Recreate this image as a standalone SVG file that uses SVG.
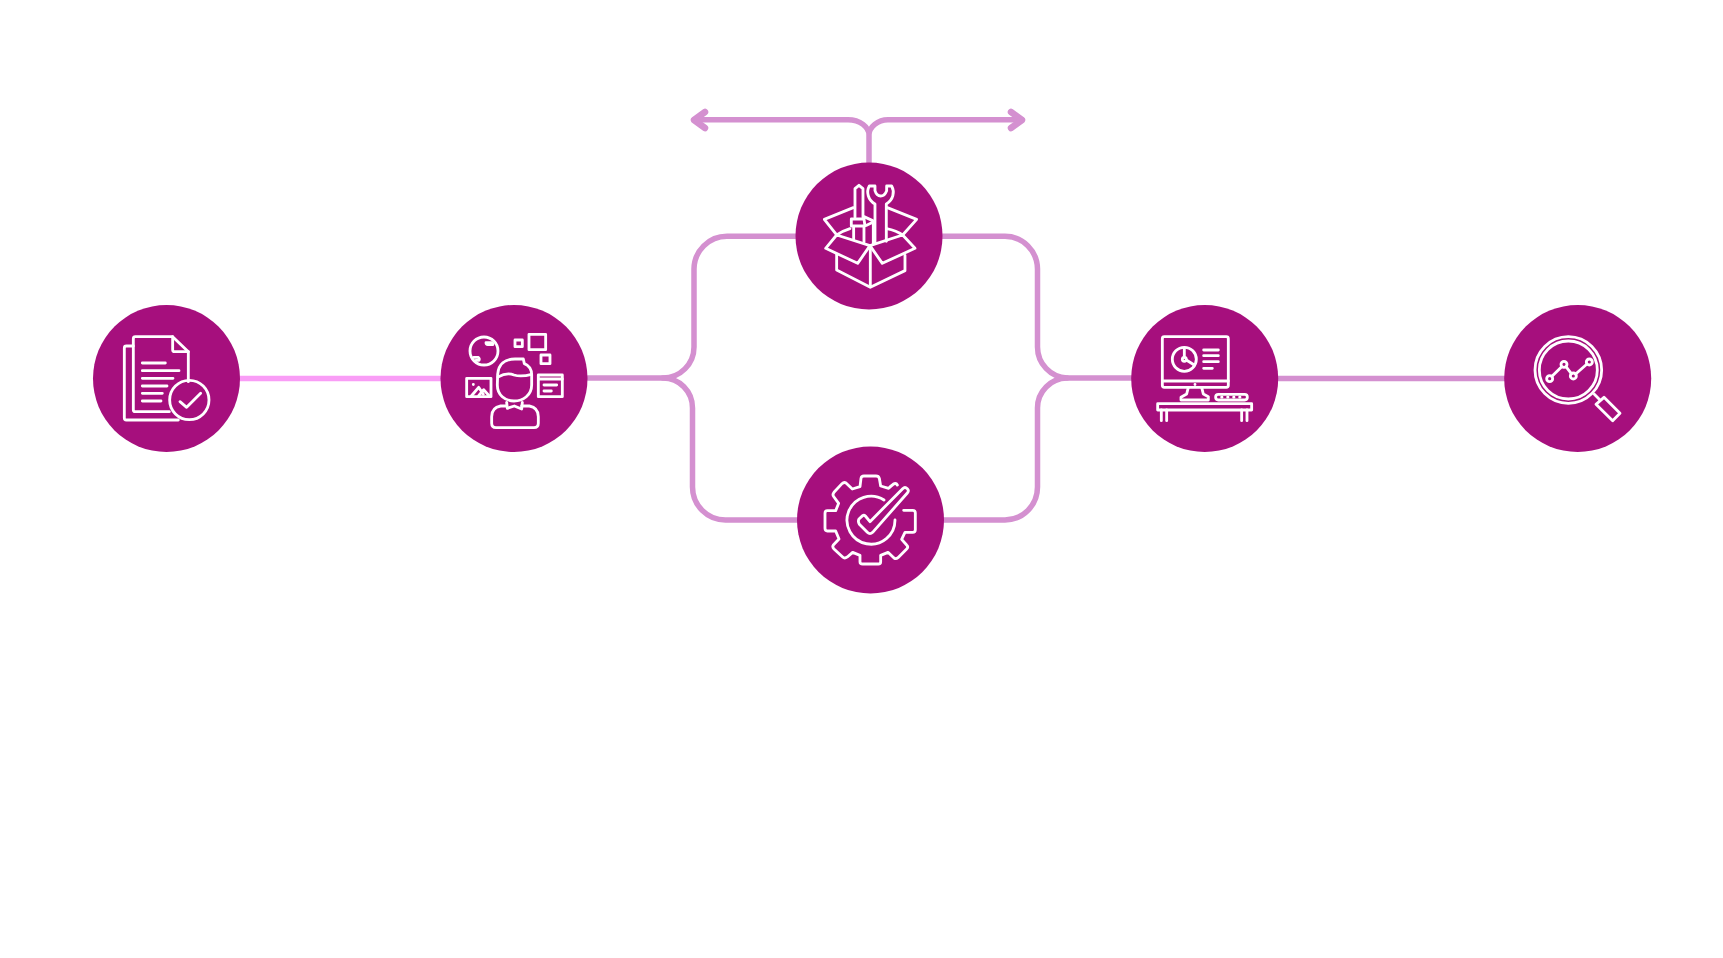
<svg xmlns="http://www.w3.org/2000/svg" width="1723" height="958" viewBox="0 0 1723 958">
<style>
.c{fill:none;stroke:#d490d0;stroke-width:5.500;stroke-linecap:round;stroke-linejoin:round}
.a{fill:none;stroke:#d490d0;stroke-width:6.500;stroke-linecap:round;stroke-linejoin:round}
.n{fill:#a60f7d}
.i{fill:none;stroke:#fff;stroke-width:8.500;stroke-linecap:round;stroke-linejoin:round}
</style>
<rect width="1723" height="958" fill="#fff"/>
<g id="connectors">
<path d="M240 378.500H441" fill="none" stroke="#f99df6" stroke-width="5.500"/>
<path class="c" d="M588 378H663A31 31 0 0 0 694 347V269A33 33 0 0 1 727 236.300H797"/>
<path class="c" d="M663 378A29.500 30 0 0 1 692.500 408V487A33 33 0 0 0 725.500 520H798"/>
<path class="c" d="M942 236.300H1005A32.500 33 0 0 1 1037.500 269V347A31 31 0 0 0 1067 378H1132"/>
<path class="c" d="M943 520H1005A32.500 33 0 0 0 1037.500 487V408A30 30 0 0 1 1067 378"/>
<path class="c" d="M1277 378.500H1505"/>
<path class="c" d="M869 163V135C869 127 860 119.700 848 119.700H694M869 135C869 127 878 119.700 888 119.700H1022"/>
<path class="a" d="M705 112L694 120L705 128M1011 112L1022 120L1011 128"/>
</g>
<g id="node1">
<circle class="n" cx="166.500" cy="378.500" r="73.500"/>
<g class="i" transform="translate(80 290) scale(.3333)">
<path d="M268 365H166Q160 365 160 359V146Q160 140 166 140H278L325 185V275"/>
<path d="M278 140V179Q278 185 284 185H325"/>
<path d="M160 168H139Q133 168 133 174V384Q133 390 139 390H295"/>
<circle cx="328" cy="330" r="59"/>
<path d="M300 335L320 352L362 310"/>
<path d="M187 219H256M187 242H297M187 265H279M187 288H261M187 310H247M187 333H243"/>
</g>
</g>
<g id="node2">
<circle class="n" cx="514" cy="378.500" r="73.500"/>
<g class="i" transform="translate(430 295) scale(.3333)">
<circle cx="162" cy="168" r="42"/>
<path d="M168 143H186Q190 146 188 149H174Q168 148 168 143ZM131 187H144Q150 190 147 196H138"/>
<rect x="255" y="135" width="22" height="20"/>
<rect x="297" y="118" width="50" height="46"/>
<rect x="333" y="180" width="27" height="26"/>
<rect x="110" y="250" width="73" height="55"/>
<path d="M130 268V268.500M124 303L146 277L160 298M146 302L161 284L178 303"/>
<rect x="325" y="240" width="72" height="65"/>
<path d="M325 252H397M342 270H380M342 288H364"/>
<path d="M203 238C205 208 225 192 255 192H280L283 206C298 212 305 225 305 240V270C305 300 280 318 252 318C225 318 202 300 202 270Z"/>
<path d="M204 246C222 236 238 234 252 240C272 246 290 242 305 238"/>
<path d="M230 322L232 340L253 333L275 342L277 322"/>
<path d="M230 333H212Q185 338 185 365V385Q185 398 198 398H312Q325 398 325 385V365Q325 338 298 333H275"/>
</g>
</g>
<g id="node3">
<circle class="n" cx="869" cy="236" r="73.500"/>
<g class="i" transform="translate(680 100) scale(.3333)">
<path d="M525 352V266L537 256L549 266V352"/>
<path d="M514 378V357H552L555 378H514M521 380V418M552 378V426"/>
<path d="M552 350L578 362M560 376L580 366V432"/>
<path d="M585 430V312C564 300 558 276 568 258H585V272Q590 288 602 288Q614 288 620 272V258H635C645 276 640 300 619 312V424"/>
<path d="M520 323L433 358L470 405M622 323L710 358L668 405"/>
<path d="M470 405L437 445L533 490L570 437L607 490L705 445L668 405L570 437L470 405"/>
<path d="M470 405Q490 392 510 386M620 386Q650 392 668 405"/>
<path d="M470 463V510L571 562L675 512V466M571 437V562"/>
</g>
</g>
<g id="node4">
<circle class="n" cx="870.500" cy="520" r="73.500"/>
<g class="i" transform="translate(790 445) scale(.3333)">
<path d="M322 120C318 112 312 114 296 130L272 123L268 100Q266 93 258 93H222Q214 93 213 100L210 125L187 132L168 114Q162 110 156 116L132 142Q126 150 132 156L146 175L137 197H112Q105 197 105 205V250Q105 258 112 258H137L147 282L130 300Q126 306 132 312L158 336Q164 342 172 336L188 322L210 331V350Q210 357 218 357H265Q272 357 272 350V331L294 322L312 339Q318 343 324 338L350 312Q356 306 350 300L335 283L345 262H368Q376 262 376 254V204Q376 196 368 196H341"/>
<path d="M282 165A72 72 0 1 0 315 225"/>
<path d="M207 222L218 212Q222 209 226 213L240 230L338 131Q345 124 352 131Q358 137 352 144L248 262Q240 270 232 262L208 238Q203 230 207 222Z"/>
</g>
</g>
<g id="node5">
<circle class="n" cx="1204.700" cy="378.500" r="73.500"/>
<g class="i" transform="translate(1125 300) scale(.3333)">
<rect x="112" y="110" width="198" height="152" rx="6"/>
<path d="M112 243H310M210 253V253.500"/>
<path d="M190 262L185 282L168 292V300H250V290L235 282L230 262"/>
<rect x="272" y="283" width="95" height="17" rx="8"/>
<path d="M290 291.500H291M308 291.500H309M326 291.500H327M344 291.500H345"/>
<rect x="98" y="311" width="282" height="19"/>
<path d="M109 330V362M125 330V362M350 330V362M366 330V362"/>
<circle cx="178" cy="178" r="36"/>
<circle cx="178" cy="178" r="6"/>
<path d="M178 145V172M184 180L208 195"/>
<path d="M236 150H280M236 167H280M236 185H280M236 205H262"/>
</g>
</g>
<g id="node6">
<circle class="n" cx="1577.700" cy="378.500" r="73.500"/>
<g class="i" transform="translate(1500 300) scale(.3333)">
<circle cx="205" cy="210" r="100"/>
<circle cx="205" cy="210" r="87"/>
<circle cx="149" cy="236" r="9"/>
<circle cx="192" cy="193" r="9"/>
<circle cx="220" cy="228" r="9"/>
<circle cx="268" cy="186" r="9"/>
<path d="M156 229L185 200M198 200L214 221M227 222L261 192M283 283L300 300"/>
<path d="M312 292L360 340L338 362L288 313Z"/>
</g>
</g>
</svg>
